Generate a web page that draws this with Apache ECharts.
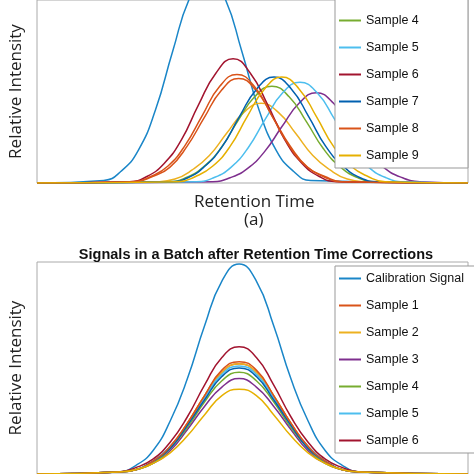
<!DOCTYPE html>
<html><head><meta charset="utf-8">
<script src="https://cdn.jsdelivr.net/npm/echarts@6/dist/echarts.min.js"></script>
<style>html,body{margin:0;padding:0;background:#fff}#c{width:474px;height:474px}</style>
</head><body><div id="c"></div>
<script>
const names = ['Calibration Signal','Sample 1','Sample 2','Sample 3','Sample 4','Sample 5','Sample 6','Sample 7','Sample 8','Sample 9'];
const colors = ['#1a86c8','#D95319','#EDB120','#7E2F8E','#77AC30','#4DBEEE','#A2142F','#0060b0','#D95319','#E6B000'];
// (a) raw signals: offsets from peak, peak positions, intensities
const offsetsA = [-24,-20,-16,-12,-8,-4,0,4,8,12,16,20,24];
const centersA = [39.5,46.8,52,64.8,54.5,61,45.5,55,46.4,56.8];
const valuesA = [
  [2,9,25,56,101,142,160,142,101,56,25,9,2],
  [1,5,12,28,50,71,80,71,50,28,12,5,1],
  [1,3,10,21,38,54,61,54,38,21,10,3,1],
  [1,4,11,24,43,61,69,61,43,24,11,4,1],
  [1,4,12,26,47,66,74,66,47,26,12,4,1],
  [1,4,12,27,49,69,77,69,49,27,12,4,1],
  [1,5,15,33,60,84,95,84,60,33,15,5,1],
  [1,4,13,28,51,72,81,72,51,28,13,4,1],
  [1,5,13,29,52,74,83,74,52,29,13,5,1],
  [1,5,13,28,51,72,81,72,51,28,13,5,1]
];
// (b) corrected signals
const offsetsB = [-28,-24,-20,-16,-12,-8,-4,0,4,8,12,16,20,24,28];
const centerB = 46.9;
const valuesB = [
  [1,4,11,25,45,70,91,99,91,70,45,25,11,4,1],
  [1,2,6,13,24,37,48,52,48,37,24,13,6,2,1],
  [1,2,6,13,24,37,48,52,48,37,24,13,6,2,1],
  [1,2,5,11,21,32,41,45,41,32,21,11,5,2,1],
  [1,2,5,12,22,34,44,48,44,34,22,12,5,2,1],
  [1,2,6,13,23,36,47,51,47,36,23,13,6,2,1],
  [1,3,7,15,27,42,55,60,55,42,27,15,7,3,1],
  [1,2,6,12,23,35,46,50,46,35,23,12,6,2,1],
  [1,2,6,13,24,37,49,53,49,37,24,13,6,2,1],
  [1,2,5,10,18,28,37,40,37,28,18,10,5,2,1]
];
function pts(offs, c, ys){ return [[0,0]].concat(offs.map((o,i)=>[c+o, ys[i]])).concat([[100,0]]); }
const series = [];
names.forEach((n,i)=>{
  series.push({name:n,type:'line',xAxisIndex:0,yAxisIndex:0,symbol:'none',smooth:true,clip:true,color:colors[i],lineStyle:{width:1.5},data:pts(offsetsA,centersA[i],valuesA[i])});
});
names.forEach((n,i)=>{
  series.push({name:n,type:'line',xAxisIndex:1,yAxisIndex:1,symbol:'none',smooth:true,clip:true,color:colors[i],lineStyle:{width:1.5},data:pts(offsetsB,centerB,valuesB[i])});
});
const legendBase = {orient:'vertical',left:335,icon:'rect',itemWidth:22,itemHeight:2,itemGap:14,padding:[6,4,6,4],
  backgroundColor:'#fff',borderColor:'#999',borderWidth:1,textStyle:{fontFamily:'Liberation Sans',fontSize:12.5,color:'#111'},data:names,selectedMode:false};
const ax = {type:'value',min:0,max:100,axisLine:{show:false},axisTick:{show:false},axisLabel:{show:false},splitLine:{show:false}};
const chart = echarts.init(document.getElementById('c'));
chart.setOption({
  animation:false,
  title:{text:'Signals in a Batch after Retention Time Corrections',left:251,textAlign:'center',top:242,
    textStyle:{fontFamily:'Liberation Sans',fontWeight:'bold',fontSize:14.5,color:'#111'}},
  grid:[
    {left:33,width:435,top:-70,height:253,show:true,borderColor:'#aaa',borderWidth:1},
    {left:33,width:435,top:262,height:276,show:true,borderColor:'#aaa',borderWidth:1}
  ],
  xAxis:[Object.assign({gridIndex:0},ax),Object.assign({gridIndex:1},ax)],
  yAxis:[
    Object.assign({gridIndex:0,name:'Relative Intensity',nameLocation:'middle',nameGap:12},ax,{max:140,nameTextStyle:{fontFamily:'Open Sans',fontSize:17,color:'#222'}}),
    Object.assign({gridIndex:1,name:'Relative Intensity',nameLocation:'middle',nameGap:12},ax,{nameTextStyle:{fontFamily:'Open Sans',fontSize:17,color:'#222'}})
  ],
  legend:[Object.assign({top:-100},legendBase),Object.assign({top:266},legendBase)],
  graphic:[
    {type:'text',left:194,top:194,style:{text:'Retention Time',font:'17px "Open Sans"',fill:'#222'}},
    {type:'text',left:244,top:212,style:{text:'(a)',font:'17px "Open Sans"',fill:'#222'}}
  ],
  series
});
</script></body></html>
